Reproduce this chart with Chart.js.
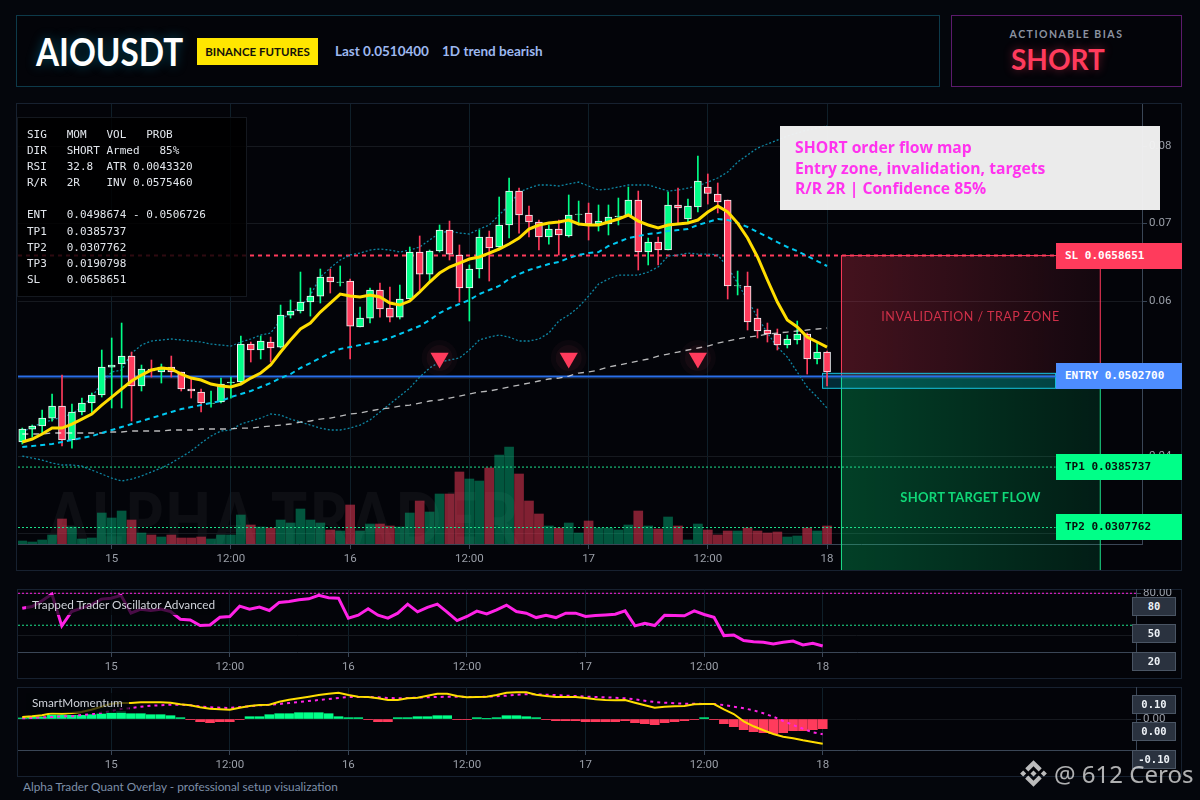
<!DOCTYPE html>
<html>
<head>
<meta charset="utf-8">
<title>AIOUSDT</title>
<script src="https://cdn.jsdelivr.net/npm/chart.js@4/dist/chart.umd.min.js"></script>
<style>
  html, body { margin: 0; padding: 0; background: #04060c; }
  #page { position: relative; width: 1200px; height: 800px; overflow: hidden; background: #04060c; font-family: "Lato", sans-serif; }
  #page div { position: absolute; box-sizing: border-box; margin: 0; white-space: nowrap; }
  #page pre { position: absolute; margin: 0; white-space: pre; }
  canvas { position: absolute; }
  .frame { background: #030409; border: 1px solid #172130; }
  .level { height: 26px; left: 1056px; width: 126px; padding-left: 9px; font: bold 11px/26px "DejaVu Sans Mono", monospace; }
  .box { left: 1132px; width: 44px; height: 19px; background: #2a323f; border: 1px solid #4a5564; color: #eef2f7; text-align: center; font: bold 10.5px/17px "DejaVu Sans Mono", monospace; }
  .paneTitle { left: 26px; padding: 0 6px; background: rgba(3,4,9,.72); color: #cfd3da; font-size: 11.8px; line-height: 20px; }
</style>
</head>
<body>
<div id="page">
  <div class="frame" style="left:16px;top:15px;width:924px;height:72px;border-color:#0d3a4a"></div>
  <div style="left:36px;top:28px;font-size:38px;font-weight:700;line-height:46px;color:#fff;text-shadow:0 0 12px rgba(0,200,240,.35);transform-origin:left top;transform:scaleX(.875)">AIOUSDT</div>
  <div style="left:197px;top:38px;width:121px;height:27px;background:#ffe600;color:#14120a;font-size:11.5px;font-weight:700;line-height:27px;text-align:center">BINANCE FUTURES</div>
  <div style="left:335px;top:42px;font-size:13.5px;font-weight:700;line-height:18px;color:#9db8f0">Last 0.0510400</div>
  <div style="left:442px;top:42px;font-size:13.5px;font-weight:700;line-height:18px;color:#9db8f0">1D trend bearish</div>

  <div class="frame" style="left:951px;top:15px;width:231px;height:72px;border-color:#5c1a6c"></div>
  <div style="left:951px;top:27px;width:231px;text-align:center;font-size:10.5px;font-weight:700;letter-spacing:1.5px;line-height:14px;color:#8b93a1">ACTIONABLE BIAS</div>
  <div style="left:1011px;top:40px;font-size:28px;font-weight:700;line-height:38px;color:#ff3b5c;text-shadow:0 0 10px rgba(255,59,92,.45)">SHORT</div>

  <div class="frame" style="left:16px;top:103px;width:1166px;height:468px"></div>
  <div class="frame" style="left:17px;top:589px;width:1165px;height:90px"></div>
  <div class="frame" style="left:17px;top:687px;width:1165px;height:90px"></div>

  <div style="left:47px;top:477px;font-size:72px;font-weight:900;letter-spacing:3px;line-height:80px;color:rgba(255,255,255,.045);transform-origin:left top;transform:scaleX(.83)">ALPHA TRADER</div>

  <canvas id="priceChart" width="1164" height="466" style="left:18px;top:104px"></canvas>
  <canvas id="oscChart" width="1164" height="89" style="left:18px;top:589px"></canvas>
  <canvas id="momChart" width="1164" height="89" style="left:18px;top:687px"></canvas>

  <div style="left:17px;top:117px;width:230px;height:180px;background:rgba(0,0,0,.82);border:1px solid #14181f"></div>
  <pre style="left:27px;top:127px;font:11px/16.1px 'DejaVu Sans Mono',monospace;color:#e2e6ec">SIG   MOM   VOL   PROB
DIR   SHORT Armed   85%
RSI   32.8  ATR 0.0043320
R/R   2R    INV 0.0575460

ENT   0.0498674 - 0.0506726
TP1   0.0385737
TP2   0.0307762
TP3   0.0190798
SL    0.0658651</pre>

  <div style="left:780px;top:126px;width:380px;height:84px;background:rgba(243,243,243,.97)"></div>
  <pre style="left:795px;top:137px;font-family:'Open Sans',sans-serif;font-size:15.7px;font-weight:700;line-height:20.5px;color:#ff33ee">SHORT order flow map
Entry zone, invalidation, targets
R/R 2R | Confidence 85%</pre>

  <div style="left:841px;top:308px;width:259px;text-align:center;font-size:12.5px;letter-spacing:.5px;line-height:18px;color:#cf3049">INVALIDATION / TRAP ZONE</div>
  <div style="left:841px;top:488px;width:259px;text-align:center;font-size:13px;font-weight:700;letter-spacing:.3px;line-height:18px;color:#10d878">SHORT TARGET FLOW</div>

  <div class="level" style="top:243px;background:#ff3b5c;color:#fff">SL 0.0658651</div>
  <div class="level" style="top:363px;background:#4d8dff;color:#fff">ENTRY 0.0502700</div>
  <div class="level" style="top:454px;background:#00ff88;color:#06120c">TP1 0.0385737</div>
  <div class="level" style="top:514px;background:#00ff88;color:#06120c">TP2 0.0307762</div>

  <div class="paneTitle" style="top:595px">Trapped Trader Oscillator Advanced</div>
  <div class="paneTitle" style="top:693px">SmartMomentum</div>

  <div class="box" style="top:597px">80</div>
  <div class="box" style="top:624px">50</div>
  <div class="box" style="top:652px">20</div>
  <div class="box" style="top:695px">0.10</div>
  <div class="box" style="top:722px">0.00</div>
  <div class="box" style="top:750px">-0.10</div>

  <div style="left:23px;top:780px;font-size:11.8px;line-height:14px;color:#7d8fa8">Alpha Trader Quant Overlay - professional setup visualization</div>

  <svg style="position:absolute;left:1020px;top:760px" width="27" height="27" viewBox="0 0 126 126"><path fill="#dcdcdc" fill-opacity=".85" d="M38.73 53.2L63 28.92l24.28 24.28 14.12-14.12L63 .68 24.61 39.07zM.68 63l14.12-14.12L28.92 63 14.8 77.12zM38.73 72.8L63 97.08l24.28-24.28 14.13 14.11L63 125.32 24.61 86.93l-.02-.02zM97.08 63l14.12-14.12L125.32 63 111.2 77.12zM77.32 63L63 48.68 52.41 59.27l-1.22 1.22-2.51 2.51L63 77.32z"/></svg>
  <div style="left:1054px;top:756px;font-family:'Noto Sans',sans-serif;font-size:24px;line-height:36px;color:rgba(225,225,225,.78)">@ 612 Ceros</div>
</div>

<script>
// candles, one per hour, 14th 15:00 to 18th 00:00
const opens = [0.04181,0.04348,0.04387,0.04490,0.04645,0.04207,0.04568,0.04684,0.04787,0.05148,0.05187,0.05290,0.04903,0.05123,0.05084,0.05148,0.05084,0.04865,0.04826,0.04680,0.04697,0.04942,0.04955,0.05445,0.05368,0.05471,0.05406,0.05819,0.05871,0.05987,0.06064,0.06310,0.06240,0.06258,0.05665,0.05780,0.06142,0.05910,0.05793,0.06026,0.06632,0.06348,0.06645,0.06916,0.06593,0.06168,0.06413,0.06826,0.06697,0.06981,0.07419,0.07110,0.07019,0.06826,0.06929,0.06839,0.07117,0.07136,0.06994,0.06994,0.07084,0.07097,0.07303,0.06632,0.06761,0.06658,0.07239,0.07058,0.07213,0.07471,0.07381,0.07303,0.06194,0.06194,0.05780,0.05626,0.05574,0.05432,0.05497,0.05574,0.05252,0.05342];
const highs = [0.04361,0.04400,0.04594,0.04800,0.05045,0.04671,0.04748,0.04813,0.05368,0.05523,0.05716,0.05342,0.05174,0.05239,0.05187,0.05290,0.05084,0.05006,0.04865,0.04839,0.05006,0.05019,0.05548,0.05471,0.05548,0.05535,0.05948,0.06013,0.06374,0.06168,0.06413,0.06413,0.06452,0.06284,0.05923,0.06168,0.06232,0.06181,0.06206,0.06697,0.06839,0.06658,0.06981,0.07032,0.06723,0.06465,0.06916,0.06903,0.07342,0.07587,0.07458,0.07226,0.07045,0.06981,0.07045,0.07368,0.07290,0.07264,0.07239,0.07239,0.07329,0.07471,0.07419,0.06813,0.06826,0.07406,0.07458,0.07316,0.07871,0.07639,0.07523,0.07303,0.06387,0.06374,0.05897,0.05716,0.05639,0.05561,0.05742,0.05587,0.05458,0.05355];
const lows = [0.04155,0.04245,0.04297,0.04451,0.04129,0.04103,0.04529,0.04555,0.04761,0.04620,0.04620,0.04451,0.04839,0.05019,0.04942,0.05019,0.04839,0.04748,0.04568,0.04632,0.04684,0.04748,0.04942,0.05213,0.05252,0.05213,0.05394,0.05780,0.05845,0.05806,0.05974,0.06103,0.06194,0.05252,0.05665,0.05716,0.05793,0.05729,0.05768,0.06026,0.06142,0.06245,0.06632,0.06529,0.05987,0.05742,0.06297,0.06258,0.06684,0.06813,0.06877,0.06826,0.06658,0.06735,0.06593,0.06826,0.06981,0.06787,0.06903,0.06852,0.06981,0.07097,0.06400,0.06465,0.06465,0.06658,0.07006,0.07019,0.07149,0.07251,0.07136,0.06026,0.06078,0.05626,0.05523,0.05471,0.05368,0.05394,0.05445,0.05058,0.05187,0.04903];
const closes = [0.04348,0.04387,0.04490,0.04645,0.04207,0.04568,0.04684,0.04787,0.05148,0.05174,0.05290,0.04903,0.05123,0.05097,0.05148,0.05084,0.04865,0.04839,0.04684,0.04684,0.04929,0.04955,0.05445,0.05368,0.05484,0.05394,0.05819,0.05871,0.05987,0.06064,0.06310,0.06245,0.06245,0.05677,0.05780,0.06142,0.05897,0.05793,0.06026,0.06632,0.06348,0.06645,0.06916,0.06606,0.06168,0.06413,0.06826,0.06684,0.06981,0.07419,0.07110,0.07019,0.06826,0.06929,0.06852,0.07110,0.07123,0.06994,0.07032,0.07084,0.07097,0.07303,0.06632,0.06761,0.06658,0.07239,0.07200,0.07226,0.07548,0.07387,0.07277,0.06194,0.06200,0.05729,0.05613,0.05574,0.05432,0.05510,0.05574,0.05252,0.05342,0.05084];
const volumes = [3,2,4,9,25,17,5,6,31,26,33,24,11,9,7,9,6,6,7,5,9,9,29,19,17,16,24,21,35,24,21,14,13,39,13,20,20,18,17,31,43,32,50,50,72,65,63,76,89,97,70,43,30,18,16,21,11,23,16,16,14,19,33,18,15,27,18,4,20,14,9,13,13,16,13,11,12,7,8,16,13,18];

// overlays on the price pane
const emaFast = [0.04181,0.04219,0.04284,0.04361,0.04361,0.04413,0.04477,0.04542,0.04658,0.04761,0.04865,0.04968,0.05045,0.05110,0.05136,0.05123,0.05058,0.05006,0.04981,0.04929,0.04903,0.04890,0.04929,0.05006,0.05071,0.05174,0.05342,0.05497,0.05639,0.05716,0.05858,0.05974,0.06090,0.06064,0.06052,0.06077,0.06052,0.05974,0.05948,0.06000,0.06116,0.06245,0.06361,0.06439,0.06490,0.06542,0.06568,0.06619,0.06671,0.06735,0.06813,0.06929,0.06981,0.07006,0.07019,0.07045,0.06994,0.06981,0.06981,0.07019,0.07058,0.07110,0.07032,0.06981,0.06942,0.06981,0.06994,0.07006,0.07045,0.07149,0.07226,0.07149,0.07006,0.06813,0.06568,0.06271,0.05987,0.05755,0.05665,0.05535,0.05471,0.05406];
const emaSlow = [0.04116,0.04129,0.04142,0.04155,0.04181,0.04207,0.04232,0.04258,0.04297,0.04336,0.04374,0.04413,0.04452,0.04490,0.04529,0.04568,0.04606,0.04632,0.04658,0.04684,0.04710,0.04761,0.04800,0.04839,0.04890,0.04942,0.05006,0.05058,0.05136,0.05200,0.05265,0.05329,0.05381,0.05406,0.05432,0.05458,0.05484,0.05523,0.05574,0.05626,0.05677,0.05755,0.05845,0.05910,0.05961,0.06013,0.06090,0.06142,0.06194,0.06284,0.06348,0.06400,0.06439,0.06477,0.06503,0.06555,0.06594,0.06619,0.06632,0.06710,0.06761,0.06813,0.06839,0.06865,0.06877,0.06903,0.06916,0.06929,0.06981,0.07019,0.07058,0.07045,0.07006,0.06955,0.06890,0.06826,0.06761,0.06697,0.06645,0.06581,0.06516,0.06452];
const emaLong = [0.04284,0.04284,0.04284,0.04297,0.04297,0.04297,0.04297,0.04297,0.04297,0.04310,0.04310,0.04323,0.04323,0.04323,0.04323,0.04336,0.04336,0.04336,0.04349,0.04349,0.04349,0.04349,0.04361,0.04361,0.04374,0.04387,0.04400,0.04413,0.04439,0.04452,0.04477,0.04490,0.04516,0.04542,0.04555,0.04581,0.04606,0.04619,0.04645,0.04658,0.04684,0.04710,0.04723,0.04748,0.04774,0.04800,0.04826,0.04839,0.04865,0.04890,0.04916,0.04942,0.04968,0.04994,0.05006,0.05032,0.05071,0.05084,0.05110,0.05148,0.05174,0.05200,0.05226,0.05252,0.05290,0.05316,0.05342,0.05368,0.05394,0.05419,0.05458,0.05484,0.05510,0.05535,0.05548,0.05574,0.05587,0.05600,0.05613,0.05626,0.05639,0.05652];
const bandUpper = [0.04310,0.04374,0.04426,0.04465,0.04503,0.04542,0.04632,0.04761,0.04942,0.05084,0.05110,0.05329,0.05432,0.05484,0.05497,0.05510,0.05497,0.05484,0.05471,0.05445,0.05432,0.05419,0.05471,0.05510,0.05561,0.05587,0.05755,0.05845,0.05923,0.06077,0.06310,0.06426,0.06529,0.06594,0.06619,0.06658,0.06671,0.06658,0.06632,0.06658,0.06697,0.06787,0.06877,0.06903,0.06877,0.06865,0.06929,0.06981,0.07110,0.07239,0.07406,0.07458,0.07497,0.07497,0.07484,0.07510,0.07535,0.07484,0.07432,0.07445,0.07471,0.07497,0.07497,0.07497,0.07458,0.07419,0.07432,0.07458,0.07484,0.07535,0.07587,0.07664,0.07793,0.07884,0.07974,0.08026,0.08077,0.08129,0.08168,0.08206,0.08232,0.08258];
const bandLower = [0.03999,0.03974,0.03948,0.03910,0.03884,0.03884,0.03871,0.03819,0.03768,0.03716,0.03677,0.03703,0.03742,0.03794,0.03845,0.03910,0.03987,0.04065,0.04168,0.04258,0.04323,0.04336,0.04413,0.04452,0.04490,0.04542,0.04529,0.04477,0.04439,0.04400,0.04361,0.04336,0.04336,0.04361,0.04400,0.04465,0.04568,0.04671,0.04774,0.04877,0.05019,0.05136,0.05213,0.05239,0.05265,0.05368,0.05497,0.05535,0.05561,0.05535,0.05484,0.05484,0.05510,0.05587,0.05742,0.05819,0.05923,0.06064,0.06219,0.06284,0.06335,0.06335,0.06335,0.06374,0.06439,0.06581,0.06594,0.06619,0.06606,0.06606,0.06594,0.06439,0.06232,0.06013,0.05793,0.05587,0.05406,0.05277,0.05084,0.04890,0.04761,0.04619];
const signalBars = [42,55,68];
const signalPrices = [0.05265,0.05265,0.05265];

// trade levels
const slLevel = 0.0658651;
const entryLevel = 0.05027;
const tpLevels = [0.0385737,0.0307762];
const entryBox = [0.05067,0.04874];

// lower panes
const oscValues = [66.0,67.6,72.9,79.2,49.4,62.9,66.0,69.2,74.5,75.4,78.0,61.3,65.1,63.8,65.1,62.9,55.7,55.0,49.7,50.3,57.5,58.2,67.9,65.1,67.0,63.8,71.4,72.3,73.9,74.8,78.0,75.8,75.4,56.6,59.4,65.4,59.4,56.6,61.3,69.8,62.6,66.7,69.8,62.3,54.4,58.2,63.2,60.7,64.5,68.9,62.9,61.3,57.2,59.4,57.2,61.3,61.3,58.2,59.1,59.7,60.4,63.5,49.4,51.9,49.7,59.4,59.1,58.8,63.5,60.1,57.5,40.3,40.9,35.6,34.6,34.0,32.4,34.0,35.2,31.5,33.0,30.5];
const oscLevels = [80,50];
const momLine = [0.0020,0.0027,0.0037,0.0057,0.0053,0.0060,0.0070,0.0093,0.0123,0.0153,0.0160,0.0160,0.0167,0.0167,0.0167,0.0163,0.0147,0.0137,0.0117,0.0103,0.0097,0.0093,0.0113,0.0130,0.0140,0.0143,0.0173,0.0193,0.0207,0.0223,0.0240,0.0253,0.0263,0.0240,0.0223,0.0220,0.0207,0.0190,0.0190,0.0207,0.0213,0.0233,0.0253,0.0253,0.0230,0.0217,0.0220,0.0223,0.0240,0.0263,0.0267,0.0267,0.0243,0.0230,0.0220,0.0220,0.0220,0.0210,0.0197,0.0190,0.0187,0.0190,0.0163,0.0137,0.0113,0.0123,0.0127,0.0130,0.0147,0.0150,0.0150,0.0097,0.0050,-0.0023,-0.0073,-0.0113,-0.0150,-0.0177,-0.0193,-0.0213,-0.0230,-0.0247];
const momSignal = [0.0007,0.0010,0.0017,0.0020,0.0027,0.0027,0.0040,0.0047,0.0063,0.0080,0.0100,0.0110,0.0123,0.0133,0.0137,0.0143,0.0143,0.0137,0.0127,0.0117,0.0113,0.0110,0.0120,0.0127,0.0137,0.0143,0.0150,0.0160,0.0170,0.0180,0.0190,0.0200,0.0210,0.0220,0.0220,0.0220,0.0217,0.0210,0.0207,0.0210,0.0213,0.0217,0.0220,0.0223,0.0223,0.0220,0.0220,0.0223,0.0227,0.0233,0.0243,0.0247,0.0247,0.0243,0.0240,0.0233,0.0230,0.0223,0.0220,0.0217,0.0213,0.0207,0.0197,0.0183,0.0170,0.0163,0.0157,0.0153,0.0153,0.0150,0.0150,0.0140,0.0123,0.0107,0.0087,0.0057,0.0023,-0.0020,-0.0060,-0.0097,-0.0133,-0.0153];
const momHist = [0.0010,0.0017,0.0020,0.0040,0.0040,0.0037,0.0037,0.0043,0.0050,0.0060,0.0073,0.0053,0.0053,0.0043,0.0043,0.0033,0.0013,-0.0003,-0.0027,-0.0037,-0.0027,-0.0027,-0.0003,0.0023,0.0023,0.0043,0.0053,0.0053,0.0063,0.0063,0.0063,0.0053,0.0023,0.0013,0.0013,-0.0003,-0.0027,-0.0027,0.0013,0.0013,0.0023,0.0023,0.0033,0.0033,-0.0003,-0.0003,0.0013,0.0002,0.0013,0.0033,0.0033,0.0023,0.0013,-0.0003,-0.0017,-0.0017,-0.0017,-0.0027,-0.0027,-0.0027,-0.0027,-0.0017,-0.0037,-0.0047,-0.0057,-0.0037,-0.0027,-0.0017,-0.0007,0.0013,-0.0007,-0.0047,-0.0077,-0.0107,-0.0127,-0.0137,-0.0147,-0.0137,-0.0117,-0.0117,-0.0107,-0.0097];

// axes
const timeTickBars = [9,21,33,45,57,69,81];
const timeTickLabels = ['15','12:00','16','12:00','17','12:00','18'];
const priceTicks = [0.08,0.07,0.06,0.05,0.04,0.03];
const oscTicks = [80,40];
const momTicks = [0];

const BULL = '#00ff88';
const BEAR = '#ff3b5c';
const TICK_FONT = { family: 'Roboto', size: 11.5 };

function timeAxis() {
  return {
    type: 'linear',
    min: -0.43,
    max: 112.7,
    offset: false,
    afterFit: s => { s.height = 26; s.paddingLeft = 0; s.paddingRight = 0; },
    afterBuildTicks: s => { s.ticks = timeTickBars.map(v => ({ value: v })); },
    grid: { color: '#0f1f29', tickColor: '#3a4656', tickLength: 5, offset: false },
    border: { color: '#3a4656' },
    ticks: {
      color: '#9a9fa8',
      font: TICK_FONT,
      maxRotation: 0,
      autoSkip: false,
      padding: 3,
      callback: v => timeTickLabels[timeTickBars.indexOf(v)]
    }
  };
}

function valueAxis(width, min, max, tickList) {
  return {
    position: 'right',
    min,
    max,
    afterFit: s => { s.width = width; s.paddingTop = 0; s.paddingBottom = 0; },
    afterBuildTicks: s => { s.ticks = tickList.map(v => ({ value: v })); },
    grid: { color: '#16191f', tickColor: '#3a4656', tickLength: 5 },
    border: { color: '#3a4656' },
    ticks: { color: '#9a9fa8', font: TICK_FONT, padding: 2, callback: v => v.toFixed(2) }
  };
}

function lineSet(values, color, width, dash, order) {
  return {
    type: 'line',
    data: values.map((y, x) => ({ x, y })),
    borderColor: color,
    borderWidth: width,
    borderDash: dash,
    pointRadius: 0,
    tension: 0,
    fill: false,
    order
  };
}

function levelSet(value, color, width, dash, order) {
  return {
    type: 'line',
    data: [{ x: -0.43, y: value }, { x: 104, y: value }],
    borderColor: color,
    borderWidth: width,
    borderDash: dash,
    pointRadius: 0,
    order
  };
}

const baseOptions = {
  responsive: false,
  animation: false,
  parsing: true,
  layout: { padding: 0, autoPadding: false },
  plugins: { legend: { display: false }, tooltip: { enabled: false } }
};

// Price pane zones, painted under the candles
const zonePlugin = {
  id: 'zones',
  beforeDatasetsDraw(chart) {
    const { ctx, scales: { x, y }, height } = chart;
    const left = x.getPixelForValue(82.45);
    const right = x.getPixelForValue(108.5);
    const slY = y.getPixelForValue(slLevel);
    const entryY = y.getPixelForValue(entryLevel);

    ctx.save();
    let g = ctx.createLinearGradient(left, 0, right, 0);
    g.addColorStop(0, 'rgba(255,59,92,.26)');
    g.addColorStop(1, 'rgba(255,59,92,.07)');
    ctx.fillStyle = g;
    ctx.fillRect(left, slY, right - left, entryY - slY);
    ctx.strokeStyle = BEAR;
    ctx.lineWidth = 1;
    ctx.strokeRect(left, slY, right - left, entryY - slY);

    g = ctx.createLinearGradient(left, 0, right, 0);
    g.addColorStop(0, 'rgba(0,255,136,.24)');
    g.addColorStop(1, 'rgba(0,255,136,.10)');
    ctx.fillStyle = g;
    ctx.fillRect(left, entryY, right - left, height - entryY);
    ctx.strokeStyle = '#1de28c';
    ctx.beginPath();
    ctx.moveTo(left, height);
    ctx.lineTo(left, entryY);
    ctx.lineTo(right, entryY);
    ctx.lineTo(right, height);
    ctx.stroke();

    const boxLeft = x.getPixelForValue(80.55);
    const boxRight = x.getPixelForValue(104);
    const boxTop = y.getPixelForValue(entryBox[0]);
    const boxBottom = y.getPixelForValue(entryBox[1]);
    ctx.fillStyle = 'rgba(0,200,240,.2)';
    ctx.fillRect(boxLeft, boxTop, boxRight - boxLeft, boxBottom - boxTop);
    ctx.strokeStyle = '#16c4e0';
    ctx.strokeRect(boxLeft, boxTop, boxRight - boxLeft, boxBottom - boxTop);
    ctx.restore();
  }
};

function buildPriceChart() {
  const rising = opens.map((o, i) => closes[i] >= o);
  const candleColors = rising.map(up => (up ? BULL : BEAR));
  const volumeColors = rising.map(up => (up ? 'rgba(0,255,170,.33)' : 'rgba(255,59,92,.5)'));

  new Chart(document.getElementById('priceChart'), {
    type: 'bar',
    plugins: [zonePlugin],
    data: {
      datasets: [
        { type: 'line', showLine: false, data: signalBars.map((x, i) => ({ x, y: signalPrices[i] })), pointStyle: 'triangle', pointRotation: 180, pointRadius: 10.5, pointBackgroundColor: BEAR, pointBorderWidth: 0, order: 0 },
        { type: 'line', showLine: false, data: signalBars.map((x, i) => ({ x, y: signalPrices[i] })), pointRadius: 13, pointBackgroundColor: 'rgba(255,90,110,.05)', pointBorderWidth: 0, order: 1 },
        { type: 'line', showLine: false, data: signalBars.map((x, i) => ({ x, y: signalPrices[i] })), pointRadius: 18, pointBackgroundColor: 'rgba(255,120,130,.035)', pointBorderWidth: 0, order: 1 },
        lineSet(emaFast, '#ffdd00', 3, [], 2),
        lineSet(emaSlow, '#00c8f0', 2, [5, 4], 3),
        lineSet(emaLong, 'rgba(255,255,255,.72)', 1.3, [6, 5], 4),
        {
          type: 'bar',
          grouped: false,
          data: opens.map((o, x) => ({ x, y: [o, closes[x]] })),
          backgroundColor: candleColors,
          borderColor: '#f4f6f8',
          borderWidth: 1,
          borderSkipped: false,
          barThickness: 7,
          order: 5
        },
        {
          type: 'bar',
          grouped: false,
          data: lows.map((l, x) => ({ x, y: [l, highs[x]] })),
          backgroundColor: candleColors,
          barThickness: 1,
          order: 6
        },
        lineSet(bandUpper, '#0e86a3', 1.3, [2, 2], 7),
        lineSet(bandLower, '#0e86a3', 1.3, [2, 2], 7),
        levelSet(slLevel, BEAR, 2, [4, 4], 8),
        levelSet(entryLevel, '#2a6fe8', 2, [], 8),
        levelSet(tpLevels[0], '#1de28c', 1, [2, 2], 8),
        levelSet(tpLevels[1], '#1de28c', 1, [2, 2], 8),
        {
          type: 'bar',
          grouped: false,
          yAxisID: 'vol',
          data: volumes.map((y, x) => ({ x, y })),
          backgroundColor: volumeColors,
          barThickness: 9,
          order: 9
        }
      ]
    },
    options: {
      ...baseOptions,
      scales: {
        x: timeAxis(),
        y: valueAxis(40, 0.02865, 0.08542, priceTicks),
        vol: { display: false, min: 0, max: 440 }
      }
    }
  });
}

function buildOscChart() {
  new Chart(document.getElementById('oscChart'), {
    type: 'line',
    data: {
      datasets: [
        lineSet(oscValues, '#ff22e6', 3, [], 1),
        { type: 'line', data: [{ x: -0.43, y: oscLevels[0] }, { x: 112.7, y: oscLevels[0] }], borderColor: '#ff22e6', borderWidth: 1, borderDash: [2, 2], pointRadius: 0, order: 2 },
        { type: 'line', data: [{ x: -0.43, y: oscLevels[1] }, { x: 112.7, y: oscLevels[1] }], borderColor: '#1de28c', borderWidth: 1, borderDash: [2, 2], pointRadius: 0, order: 2 }
      ]
    },
    options: {
      ...baseOptions,
      scales: { x: timeAxis(), y: valueAxis(46, 24.9, 84, oscTicks) }
    }
  });
}

function buildMomChart() {
  new Chart(document.getElementById('momChart'), {
    type: 'bar',
    data: {
      datasets: [
        lineSet(momLine, '#ffdd00', 2, [], 1),
        lineSet(momSignal, '#ff22e6', 2, [3, 4], 2),
        {
          type: 'bar',
          data: momHist.map((y, x) => ({ x, y })),
          backgroundColor: momHist.map(v => (v >= 0 ? BULL : BEAR)),
          barThickness: 9,
          order: 3
        }
      ]
    },
    options: {
      ...baseOptions,
      scales: { x: timeAxis(), y: valueAxis(46, -0.031, 0.032, momTicks) }
    }
  });
}

buildPriceChart();
buildOscChart();
buildMomChart();
</script>
</body>
</html>
